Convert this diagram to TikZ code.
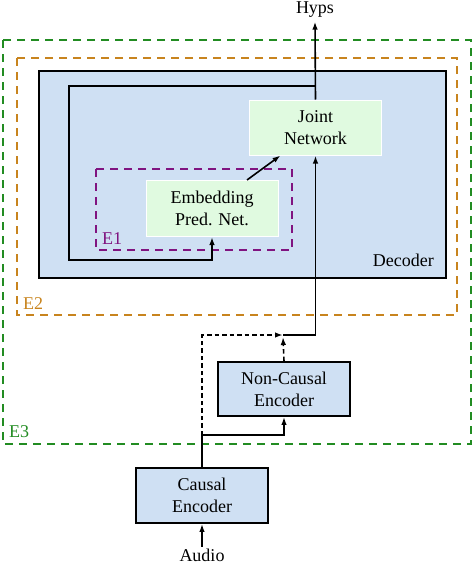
\documentclass[tikz,border=0pt]{standalone}
\usepackage{fontspec}
\setmainfont{Liberation Serif}
\usetikzlibrary{arrows.meta,calc}
\definecolor{boxblue}{RGB}{207,224,243}
\definecolor{boxgreen}{RGB}{224,250,224}
\definecolor{eone}{RGB}{128,20,128}
\definecolor{etwo}{RGB}{200,132,30}
\definecolor{ethree}{RGB}{34,140,34}
\tikzset{
  txt/.style={font=\fontsize{18}{20}\selectfont, align=center, inner sep=0pt},
  bluebox/.style={txt, draw=black, line width=1.8pt, fill=boxblue, minimum width=132pt, minimum height=54pt},
  greenbox/.style={txt, draw=white, line width=1pt, fill=boxgreen, minimum width=132pt, minimum height=55pt},
  tip/.style={-{Latex[length=8pt,width=5.5pt]}},
  arr/.style={line width=1.6pt, tip},
  ln/.style={line width=1.6pt},
  dln/.style={line width=1.6pt, dash pattern=on 4.5pt off 3pt},
  frame/.style={line width=2.4pt, dash pattern=on 8pt off 6pt},
}
\begin{document}
\begin{tikzpicture}[x=1pt,y=-1pt]
\useasboundingbox (0,0) rectangle (474,565);
% frames
\draw[frame, ethree] (3,40) rectangle (471,444);
\draw[frame, etwo] (17,58) rectangle (457,315);
\node[draw=black, line width=1.8pt, fill=boxblue, minimum width=407pt, minimum height=207pt, inner sep=0pt] (dec) at (242.5,174.5) {};
\node[txt, anchor=east] (declabel) at (434,260) {Decoder};
\draw[frame, eone] (96,169) rectangle (292,250);
\node[txt, text=eone] (e1) at (112,239) {E1};
\node[txt, text=etwo] (e2) at (33,304) {E2};
\node[txt, text=ethree] (e3) at (19,432) {E3};
% boxes
\node[greenbox] (joint) at (315.5,127.5) {Joint\\[2pt]Network};
\node[greenbox, minimum height=56pt] (emb) at (212,208.5) {Embedding\\[2pt]Pred. Net.};
\node[bluebox] (nc) at (284,389) {Non-Causal\\[2pt]Encoder};
\node[bluebox, minimum height=55pt] (causal) at (202,495.5) {Causal\\[2pt]Encoder};
\node[txt] (hyps) at (315,9.5) {Hyps};
\node[txt] (audio) at (202,555.5) {Audio};
% coordinates
\coordinate (loopT) at (315.5,86);
\coordinate (j) at (315.5,335);
\coordinate (jm) at (283,335);
\coordinate (jl) at (202,335);
\coordinate (split) at (202,435);
% connectors
\draw[arr] (joint.north) -- ($(hyps.south)+(0,4)$);
\draw[arr] (loopT) -- (69,86) -- (69,260) -| (emb.south);
\draw[arr] ($(emb.north)+(35,0)$) -- ($(joint.south)+(-35,0)$);
\draw[arr] (j) -- (joint.south);
\draw[ln] (jm) -- (j);
\draw[dln, tip] (split) -- (jl) -- (jm);
\draw[dln, tip] (nc.north) -- ($(jm)+(0,2)$);
\draw[ln] (causal.north) -- (split);
\draw[arr] (split) -| (nc.south);
\draw[arr] ($(audio.north)+(0,-2)$) -- (causal.south);
\end{tikzpicture}
\end{document}
